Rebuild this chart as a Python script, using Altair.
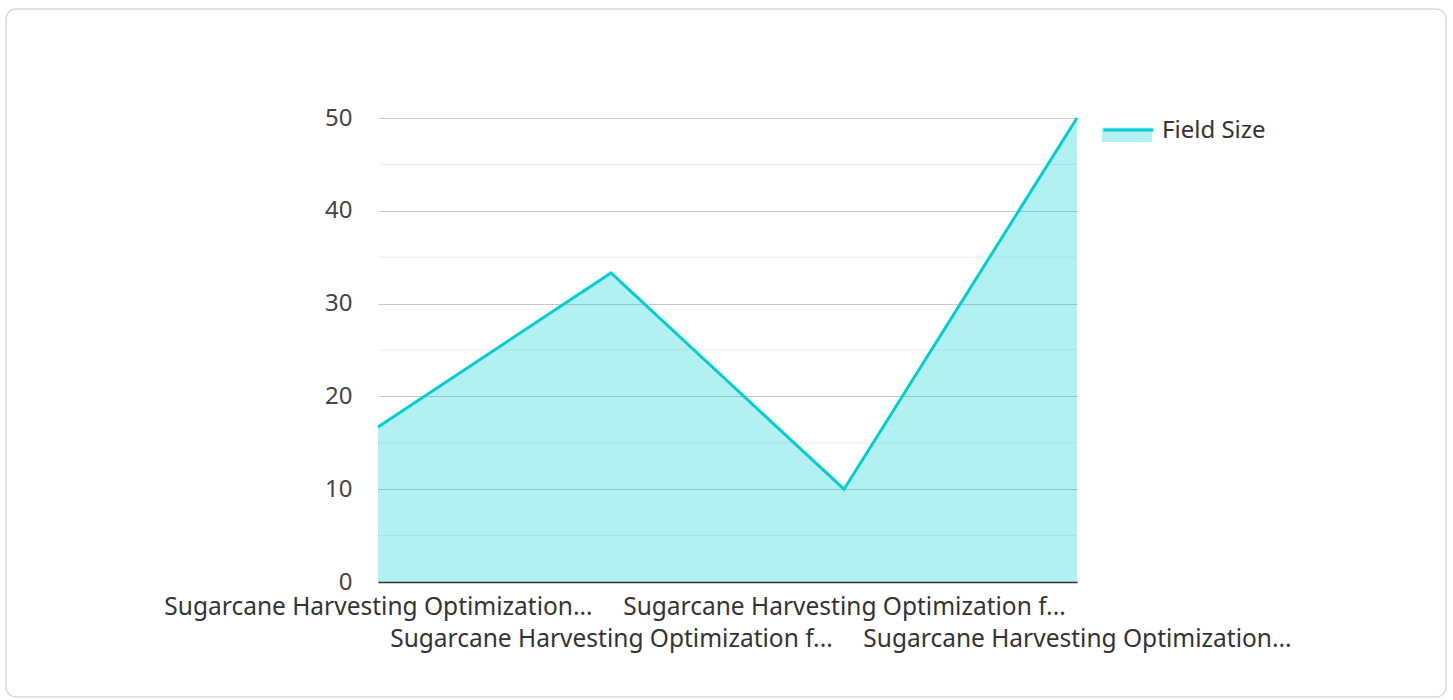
import altair as alt
import pandas as pd
import json

categories = [
    "Sugarcane Harvesting Optimization with Machine Learning",
    "Sugarcane Harvesting Optimization for Smallholder Farms",
    "Sugarcane Harvesting Optimization for Mill Logistics",
    "Sugarcane Harvesting Optimization with Drone Imaging",
]
tick_labels = [
    "Sugarcane Harvesting Optimization...",
    "Sugarcane Harvesting Optimization f...",
    "Sugarcane Harvesting Optimization f...",
    "Sugarcane Harvesting Optimization...",
]
values = [16.7, 33.3, 10.0, 50.0]
series_name = "Field Size"
major_ticks = [0, 10, 20, 30, 40, 50]
minor_ticks = [5, 15, 25, 35, 45]

df = pd.DataFrame({"name": categories, "value": values,
                   "series": [series_name] * len(categories),
                   "series2": [series_name] * len(categories)})
minor_df = pd.DataFrame({"value": minor_ticks})
card_df = pd.DataFrame({"a": [0]})

FONT = "Noto Sans"
FS = 24
CYAN = "#00CED1"

cats_js = json.dumps(categories)
labs_js = json.dumps(tick_labels)
label_expr = (
    f"indexof({cats_js}, datum.value) % 2 == 1 ? "
    f"['', {labs_js}[indexof({cats_js}, datum.value)]] : "
    f"{labs_js}[indexof({cats_js}, datum.value)]"
)

x_enc = alt.X(
    "name:N", sort=None,
    scale=alt.Scale(type="point", padding=0),
    axis=alt.Axis(
        title=None, labelAngle=0, grid=False, ticks=False,
        domainColor="#333333", domainWidth=1.5, zindex=1,
        labelFont=FONT, labelFontSize=24.5, labelColor="#333333",
        labelLimit=1000, labelOverlap=False, labelBaseline="top",
        labelPadding=13, labelLineHeight=32,
        labelExpr=label_expr,
    ),
)
y_axis = alt.Axis(
    title=None, values=major_ticks, domain=False, ticks=False, tickSize=0,
    gridColor="#c8c8c8", gridWidth=1,
    labelFont=FONT, labelFontSize=FS, labelColor="#444444", labelPadding=26,
)
y_scale = alt.Scale(domain=[0, 50], nice=False)
y_enc = alt.Y("value:Q", scale=y_scale, axis=y_axis)

card = alt.Chart(card_df).mark_rect(
    fill="transparent", stroke="#d9d9d9", strokeWidth=1.5, cornerRadius=10
).encode(
    x=alt.value(-372), x2=alt.value(1068), y=alt.value(-109), y2=alt.value(579)
)

minor = alt.Chart(minor_df).mark_rule(color="#ebebeb", strokeWidth=1).encode(
    y=alt.Y("value:Q", scale=y_scale, axis=y_axis)
)

area = alt.Chart(df).mark_area(opacity=0.3).encode(
    x=x_enc, y=y_enc,
    fill=alt.Fill("series:N", scale=alt.Scale(range=[CYAN]),
                  legend=alt.Legend(
                      title=None, orient="none", legendX=724, legendY=-12,
                      symbolType="M-1,-0.14H1V0.44H-1Z", symbolSize=2500,
                      symbolStrokeWidth=0, symbolOpacity=0.3, labelOffset=10,
                      labelFont=FONT, labelFontSize=FS, labelColor="#333333")),
)

line = alt.Chart(df).mark_line(strokeWidth=3).encode(
    x=x_enc, y=y_enc,
    stroke=alt.Stroke("series2:N", scale=alt.Scale(range=[CYAN]),
                      legend=alt.Legend(
                          title=None, orient="none", legendX=724, legendY=-12,
                          symbolType="M-1,-0.1H1", symbolSize=2500,
                          symbolStrokeWidth=3, labelOffset=10, labelExpr="''",
                          labelFont=FONT, labelFontSize=FS)),
)

chart = alt.layer(card, minor, area, line).resolve_scale(
    fill="independent", stroke="independent"
).properties(
    width=699, height=464,
    padding={"left": 5, "top": 8, "right": 5, "bottom": 2},
    background="white",
).configure_view(stroke=None)

chart.save("out.html", embed_options={"renderer": "svg", "actions": False})
